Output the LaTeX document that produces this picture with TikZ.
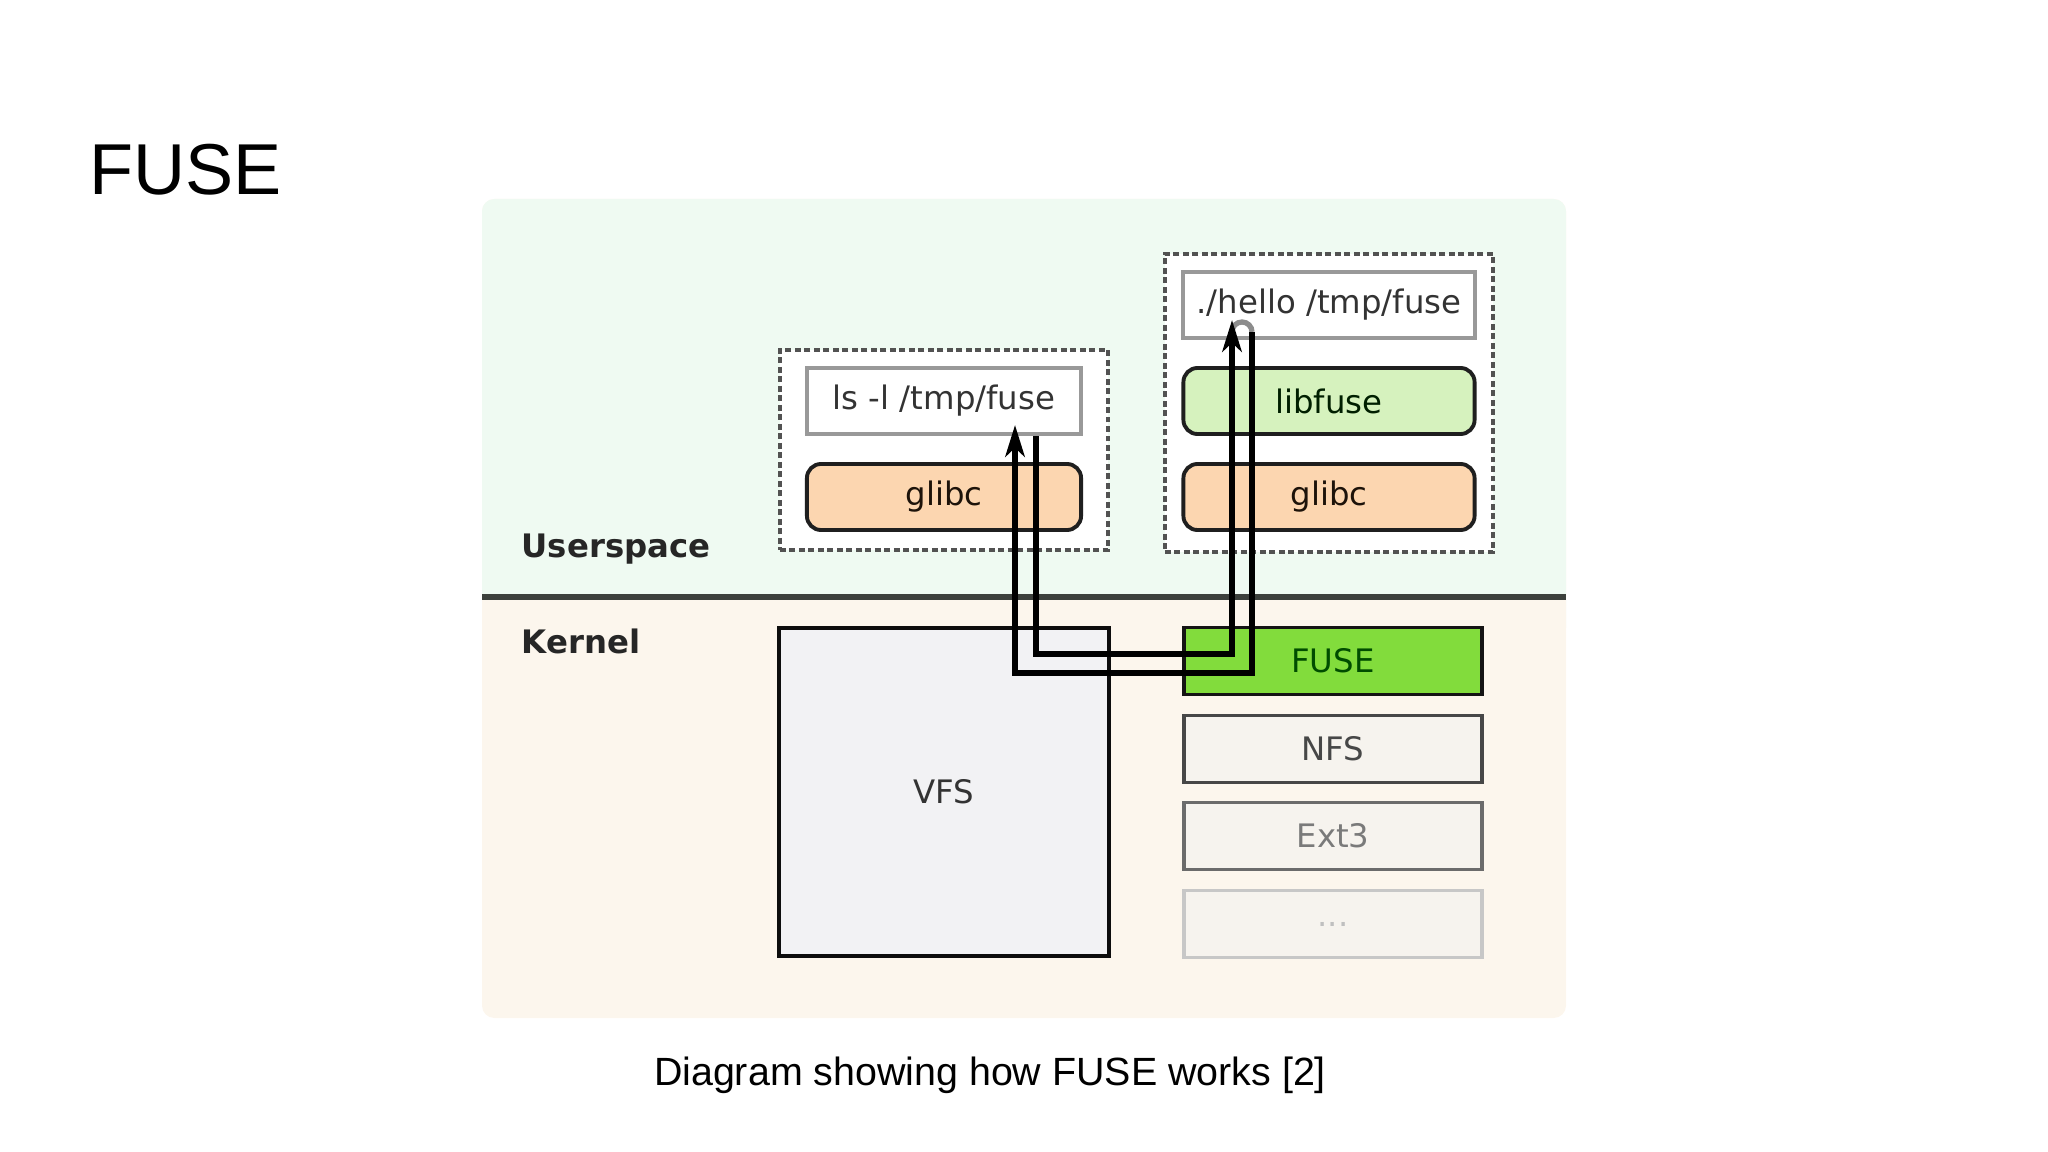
\documentclass[tikz,border=0pt]{standalone}
\usepackage{fontspec}
\setmainfont{Liberation Sans}
\newfontfamily\dejavu{DejaVu Sans}
\usetikzlibrary{arrows.meta}
\definecolor{userbg}{RGB}{239,250,242}
\definecolor{kernelbg}{RGB}{252,246,237}
\definecolor{sepcol}{RGB}{60,64,60}
\definecolor{glibcfill}{RGB}{252,214,176}
\definecolor{libfusefill}{RGB}{214,242,190}
\definecolor{fusefill}{RGB}{130,220,60}
\definecolor{vfsfill}{RGB}{242,242,244}
\definecolor{fsfill}{RGB}{246,243,238}
\tikzset{
  diag/.style={font=\dejavu\fontsize{9.2}{11}\selectfont, text=black!80, inner sep=0pt},
  cmdbox/.style={diag, draw=black!40, line width=1.1pt, fill=white, minimum height=0.66cm},
  libbox/.style={diag, draw=black!88, line width=1.1pt, rounded corners=4pt, minimum width=2.74cm, minimum height=0.66cm},
  groupbox/.style={draw=black!68, dash pattern=on 1.7pt off 1pt, line width=1pt, fill=white, minimum width=3.28cm},
  fsbox/.style={diag, line width=1.1pt, fill=fsfill, minimum width=2.98cm, minimum height=0.67cm},
  area/.style={font=\dejavu\bfseries\fontsize{9.2}{11}\selectfont, text=black!85, anchor=west, inner sep=0pt},
  flow/.style={line width=1.7pt},
  tip/.style={-{Stealth[length=9pt, width=5.5pt, inset=2.5pt]}}
}
\begin{document}
\begin{tikzpicture}[x=0.01cm, y=-0.01cm]
\useasboundingbox (0,0) rectangle (2048,1152);
\node (title) at (89,195) [anchor=base west, inner sep=0pt, font=\fontsize{20.5}{24}\selectfont] {FUSE};
\fill[kernelbg, rounded corners=3.5pt] (482,199) rectangle (1566,1018);
\fill[userbg, rounded corners=3.5pt] (482,199) rectangle (1566,640);
\fill[kernelbg] (482,597) rectangle (1566,660);
\draw[sepcol, line width=1.7pt] (482,597) -- (1566,597);
\node (userspace) at (521,549) [area] {Userspace};
\node (kernel) at (521,641) [area] {Kernel};
\node (lsgroup) at (944,450) [groupbox, minimum height=2cm] {};
\node (ls) at (944,401) [cmdbox, minimum width=2.74cm] {ls -l /tmp/fuse};
\node (glibcl) at (944,497) [libbox, fill=glibcfill, text=black!85!brown] {glibc};
\node (hellogroup) at (1329,403) [groupbox, minimum height=2.98cm] {};
\node (hello) at (1329,305) [cmdbox, minimum width=2.91cm] {./hello /tmp/fuse};
\node (libfuse) at (1329,401) [libbox, minimum width=2.91cm, fill=libfusefill, text=black!80!green!60!black] {libfuse};
\node (glibcr) at (1329,497) [libbox, minimum width=2.91cm, fill=glibcfill, text=black!85!brown] {glibc};
\node (vfs) at (944,792) [diag, draw=black!95, line width=1.1pt, fill=vfsfill, minimum width=3.29cm, minimum height=3.28cm] {VFS};
\node (fuse) at (1333,661) [fsbox, draw=black!92, fill=fusefill, text=green!30!black] {FUSE};
\node (nfs) at (1333,749) [fsbox, draw=black!72, text=black!72] {NFS};
\node (ext3) at (1333,836) [fsbox, draw=black!58, text=black!52] {Ext3};
\node (more) at (1333,924) [fsbox, draw=black!22, text=black!25] {...};
\coordinate (lsin) at (1036,436);
\coordinate (lsout) at (1015,425);
\coordinate (helloin) at (1232,320);
\coordinate (helloout) at (1252,332);
\coordinate (innerlevel) at (1100,654);
\coordinate (outerlevel) at (1100,673);
\draw[black!45, line width=1.5pt] (1232,332) arc (180:0:0.1cm);
\draw[flow, tip] (lsin) |- (innerlevel -| helloin) -- (helloin);
\draw[flow, tip] (helloout) |- (outerlevel -| lsout) -- (lsout);
\node (caption) at (990,1085) [anchor=base, inner sep=0pt, font=\fontsize{11.2}{13}\selectfont] {Diagram showing how FUSE works [2]};
\end{tikzpicture}
\end{document}
